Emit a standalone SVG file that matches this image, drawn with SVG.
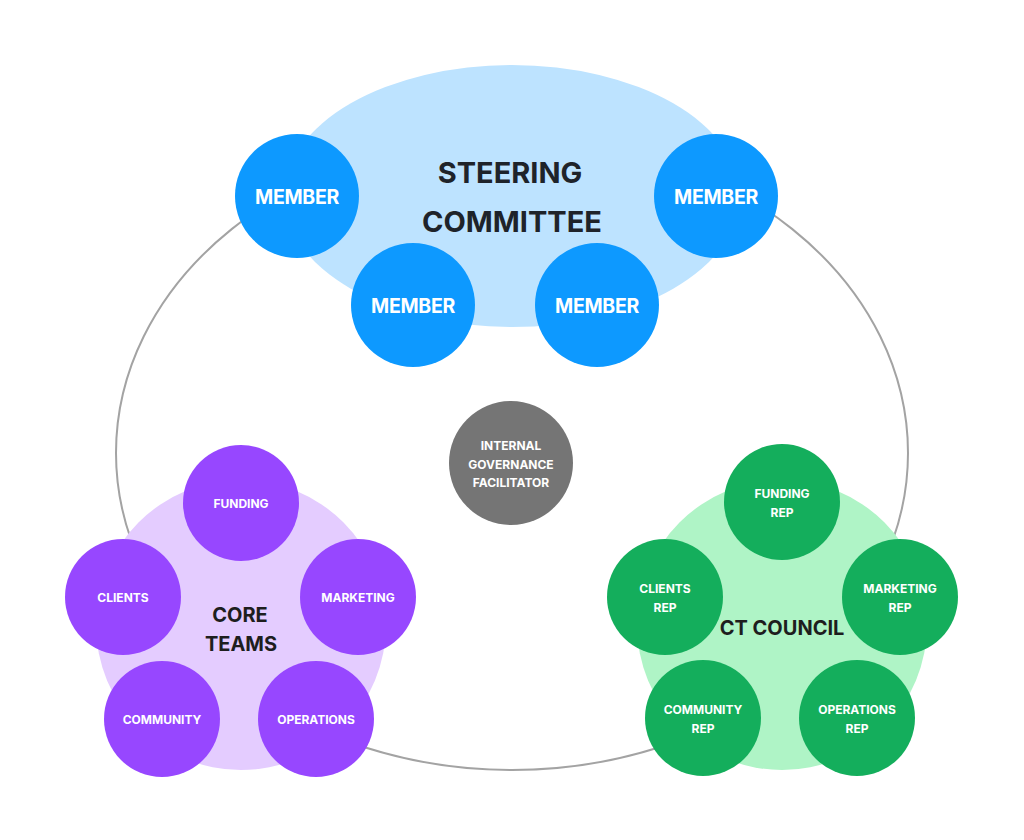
<svg xmlns="http://www.w3.org/2000/svg" width="1024" height="840" viewBox="0 0 1024 840">
  <style>
    text { font-family: Inter, "Liberation Sans", Arial, sans-serif; font-weight: 700; text-anchor: middle; }
    .ring { fill: none; stroke: #a3a3a3; stroke-width: 2; }
    .blue { fill: #0d99ff; }
    .lblue { fill: #bde3ff; }
    .purple { fill: #9747ff; }
    .lpurple { fill: #e4ccff; }
    .green { fill: #14ae5c; }
    .lgreen { fill: #aff4c6; }
    .gray { fill: #757575; }
    .wl { fill: #ffffff; font-size: 12px; }
    .wm { fill: #ffffff; font-size: 19.5px; letter-spacing: -0.3px; }
    .title { fill: #1e232a; font-size: 29px; }
    .sub { fill: #1e1e1e; font-size: 20px; }
  </style>
  <rect width="1024" height="840" fill="#ffffff"/>
  <g id="connectors">
    <ellipse class="ring" cx="512" cy="453" rx="396" ry="317"/>
  </g>
  <g id="steering-committee">
    <ellipse class="lblue" cx="512" cy="196" rx="228" ry="131"/>
    <text class="title" x="510" y="183">STEERING</text>
    <text class="title" x="512" y="232">COMMITTEE</text>
  </g>
  <g id="member-1"><circle class="blue" cx="297" cy="196" r="62"/><text class="wm" x="297" y="204">MEMBER</text></g>
  <g id="member-2"><circle class="blue" cx="716" cy="196" r="62"/><text class="wm" x="716" y="204">MEMBER</text></g>
  <g id="member-3"><circle class="blue" cx="413" cy="305" r="62"/><text class="wm" x="413" y="313">MEMBER</text></g>
  <g id="member-4"><circle class="blue" cx="597" cy="305" r="62"/><text class="wm" x="597" y="313">MEMBER</text></g>

  <g id="core-teams">
    <circle class="lpurple" cx="241" cy="625" r="145"/>
    <text class="sub" x="240" y="622">CORE</text>
    <text class="sub" x="241" y="651">TEAMS</text>
  </g>
  <g id="funding"><circle class="purple" cx="241" cy="503" r="58"/><text class="wl" x="241" y="508">FUNDING</text></g>
  <g id="clients"><circle class="purple" cx="123" cy="597" r="58"/><text class="wl" x="123" y="602">CLIENTS</text></g>
  <g id="marketing"><circle class="purple" cx="358" cy="597" r="58"/><text class="wl" x="358" y="602">MARKETING</text></g>
  <g id="community"><circle class="purple" cx="162" cy="719" r="58"/><text class="wl" x="162" y="724">COMMUNITY</text></g>
  <g id="operations"><circle class="purple" cx="316" cy="719" r="58"/><text class="wl" x="316" y="724">OPERATIONS</text></g>

  <g id="ct-council">
    <circle class="lgreen" cx="782" cy="625" r="145"/>
    <text class="sub" x="782" y="635">CT COUNCIL</text>
  </g>
  <g id="funding-rep"><circle class="green" cx="782" cy="502" r="58"/><text class="wl" x="782" y="498">FUNDING</text><text class="wl" x="782" y="517">REP</text></g>
  <g id="clients-rep"><circle class="green" cx="665" cy="597" r="58"/><text class="wl" x="665" y="593">CLIENTS</text><text class="wl" x="665" y="612">REP</text></g>
  <g id="marketing-rep"><circle class="green" cx="900" cy="597" r="58"/><text class="wl" x="900" y="593">MARKETING</text><text class="wl" x="900" y="612">REP</text></g>
  <g id="community-rep"><circle class="green" cx="703" cy="718" r="58"/><text class="wl" x="703" y="714">COMMUNITY</text><text class="wl" x="703" y="733">REP</text></g>
  <g id="operations-rep"><circle class="green" cx="857" cy="718" r="58"/><text class="wl" x="857" y="714">OPERATIONS</text><text class="wl" x="857" y="733">REP</text></g>

  <g id="internal-governance-facilitator">
    <circle class="gray" cx="511" cy="463" r="62"/>
    <text class="wl" x="511" y="450">INTERNAL</text>
    <text class="wl" x="511" y="469">GOVERNANCE</text>
    <text class="wl" x="511" y="487">FACILITATOR</text>
  </g>
</svg>
